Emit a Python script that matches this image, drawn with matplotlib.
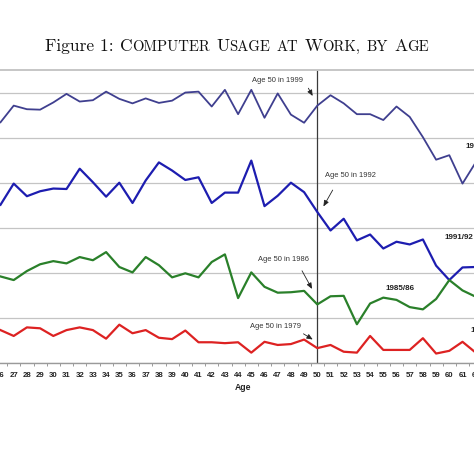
import matplotlib
matplotlib.use("Agg")
import matplotlib.pyplot as plt
import numpy as np

ages = list(range(26, 63))
tick_ages = list(range(25, 64))

purple_1999 = [53.4, 57.1, 56.3, 56.2, 57.8, 59.7, 58.0, 58.3, 60.2, 58.6,
               57.6, 58.7, 57.7, 58.2, 60.0, 60.2, 56.9, 60.6, 55.2, 60.6,
               54.4, 59.8, 55.1, 53.3, 57.1, 59.4, 57.6, 55.2, 55.2, 53.9,
               56.9, 54.6, 50.1, 45.1, 46.1, 39.8, 44.5]
blue_1991 = [35.1, 39.8, 37.0, 38.1, 38.7, 38.6, 43.1, 40.1, 36.9, 40.0,
             35.5, 40.5, 44.5, 42.7, 40.6, 41.2, 35.5, 37.8, 37.8, 44.9,
             34.8, 37.1, 40.0, 37.9, 33.5, 29.4, 32.0, 27.2, 28.5, 25.4,
             26.9, 26.3, 27.4, 21.6, 18.4, 21.2, 21.3]
green_1985 = [19.2, 18.4, 20.4, 21.9, 22.6, 22.1, 23.5, 22.8, 24.6, 21.3,
              20.1, 23.5, 21.7, 19.0, 19.9, 19.0, 22.4, 24.1, 14.4, 20.1,
              16.9, 15.6, 15.7, 16.0, 13.0, 14.8, 14.9, 8.6, 13.2, 14.5,
              14.0, 12.4, 11.9, 14.2, 18.4, 16.1, 14.7]
red_1979 = [7.3, 6.0, 7.9, 7.7, 6.0, 7.3, 7.9, 7.3, 5.4, 8.5,
            6.6, 7.3, 5.6, 5.3, 7.2, 4.6, 4.6, 4.4, 4.6, 2.3,
            4.7, 4.0, 4.2, 5.2, 3.3, 4.0, 2.5, 2.3, 6.0, 2.9,
            2.9, 2.9, 5.5, 2.1, 2.7, 4.7, 2.3]

series_labels = ["1999", "1991/92", "1985/86", "1979"]
annotation_texts = ["Age 50 in 1999", "Age 50 in 1992", "Age 50 in 1986", "Age 50 in 1979"]

W = H = 474
fig = plt.figure(figsize=(4.74, 4.74), dpi=100)
fig.patch.set_facecolor("white")

def fx(px):
    return px / W

def fy(py):
    return 1 - py / H

ax = fig.add_axes([fx(-20), fy(363), 514 / W, (363 - 70) / H])
ax.set_xlim(24.447, 63.386)
ax.set_ylim(0, 65)

for s in ["left", "right"]:
    ax.spines[s].set_visible(False)
ax.spines["top"].set_color("#c6c6c6")
ax.spines["top"].set_linewidth(1.4)
ax.spines["bottom"].set_color("#9a9a9a")
ax.spines["bottom"].set_linewidth(1.0)

ax.set_yticks(range(0, 61, 10))
ax.yaxis.grid(True, color="#c4c4c4", linewidth=0.9)
ax.tick_params(axis="y", left=False, labelleft=False)
ax.set_axisbelow(True)

ax.set_xticks(tick_ages)
ax.set_xticklabels([str(a) for a in tick_ages])
ax.set_xticks([a + 0.5 for a in tick_ages[:-1]], minor=True)
ax.tick_params(axis="x", which="major", length=0, pad=6.8, labelsize=5.6,
               labelcolor="#222222")
ax.tick_params(axis="x", which="minor", length=2.5, width=0.7, color="#9a9a9a",
               direction="out")
for lbl in ax.get_xticklabels():
    lbl.set_fontweight("bold")
    lbl.set_family("Liberation Sans")

ax.axvline(50, color="#3a3a3a", linewidth=0.9, zorder=1)

ax.plot(ages, purple_1999, color="#3f3f8f", linewidth=1.3, zorder=3)
ax.plot(ages, blue_1991, color="#1d1db0", linewidth=1.6, zorder=3)
ax.plot(ages, green_1985, color="#2a802a", linewidth=1.6, zorder=3)
ax.plot(ages, red_1979, color="#dd2222", linewidth=1.6, zorder=3)

# annotations
ann_pos = [(46.96, 62.6), (52.48, 41.6), (47.46, 22.9), (46.82, 8.0)]
arrows = [((49.22, 61.5), (49.75, 58.7)),
          ((51.27, 38.9), (50.36, 34.2)),
          ((48.74, 21.0), (49.70, 15.9)),
          ((48.77, 6.8), (49.83, 4.9))]
for txt, (x, y), (start, end) in zip(annotation_texts, ann_pos, arrows):
    ax.text(x, y, txt, ha="center", va="center", fontsize=5.4,
            family="Liberation Sans", color="#333333", zorder=4)
    ax.annotate("", xy=end, xytext=start,
                arrowprops=dict(arrowstyle="-|>,head_length=0.35,head_width=0.15",
                                color="#222222", lw=0.6), zorder=4)

label_pos = [(61.19, 48.0), (59.6, 27.9), (55.2, 16.5), (61.57, 7.2)]
for txt, (x, y) in zip(series_labels, label_pos):
    ax.text(x, y, txt, ha="left", va="center", fontsize=5.8, fontweight="bold",
            family="Liberation Sans", color="#222222", zorder=4)

fig.text(fx(243), fy(388), "Age", ha="center", va="center", fontsize=6.2,
         fontweight="bold", family="Liberation Sans", color="#222222")

# Title with faux small caps in Computer Modern
big = 12.6
small = big * 0.84
segments = [("Figure 1:", big), (" ", big), ("C", big), ("OMPUTER", small), (" ", big),
            ("U", big), ("SAGE", small), (" ", big), ("AT", small), (" ", big),
            ("W", big), ("ORK,", small), (" ", big), ("BY", small), (" ", big),
            ("A", big), ("GE", small)]
renderer = fig.canvas.get_renderer()
widths = []
for s, size in segments:
    if s == " ":
        widths.append(0.36 * size * 100 / 72)
    else:
        t = fig.text(0, 0, s, fontsize=size, family="cmr10")
        bb = t.get_window_extent(renderer)
        widths.append(bb.width)
        t.remove()
total = sum(widths)
x0 = 237 - total / 2
baseline = 51
x = x0
for (s, size), w in zip(segments, widths):
    if s != " ":
        fig.text(fx(x), fy(baseline), s, fontsize=size, family="cmr10",
                 ha="left", va="baseline", color="#111111")
    x += w

fig.savefig("out.png", dpi=100)
